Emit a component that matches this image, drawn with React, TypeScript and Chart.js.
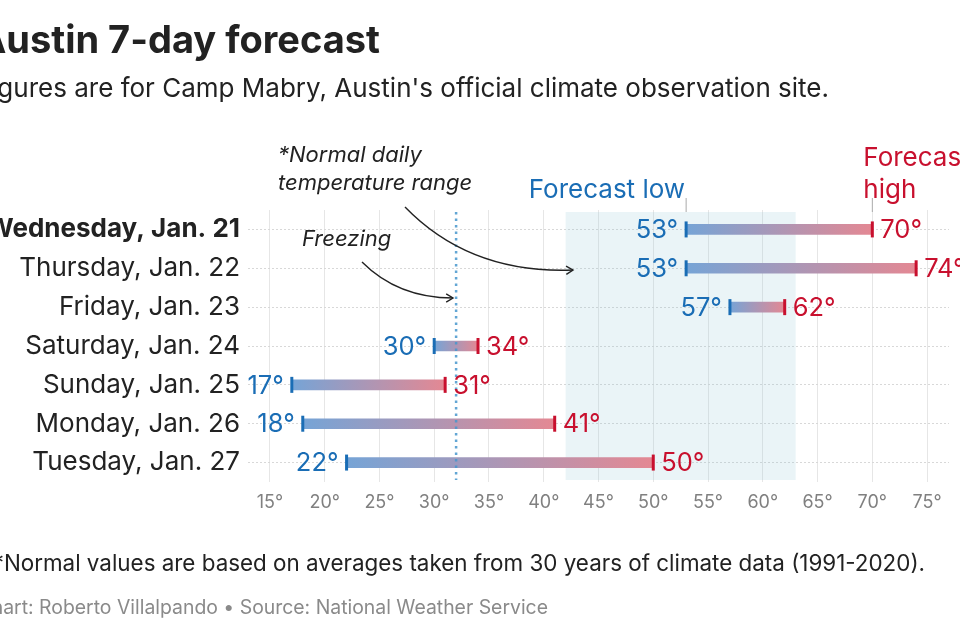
import { useEffect, useRef } from "react";
import { Chart, registerables } from "chart.js";

Chart.register(...registerables);

// Forecast data (°F)
const DAYS = [
  "Wednesday, Jan. 21",
  "Thursday, Jan. 22",
  "Friday, Jan. 23",
  "Saturday, Jan. 24",
  "Sunday, Jan. 25",
  "Monday, Jan. 26",
  "Tuesday, Jan. 27",
];
const LOWS = [53, 53, 57, 30, 17, 18, 22];
const HIGHS = [70, 74, 62, 34, 31, 41, 50];

// Axis ticks and reference values
const X_TICKS = [15, 20, 25, 30, 35, 40, 45, 50, 55, 60, 65, 70, 75];
const X_MIN = 13;
const X_MAX = 77.0;
const NORMAL_LOW = 42;
const NORMAL_HIGH = 63;
const FREEZING = 32;

const BLUE = "#1a6db5";
const RED = "#c8102e";
const INK = "#222222";
const FONT = "Inter, 'Noto Sans', sans-serif";

function arrow(
  ctx: CanvasRenderingContext2D,
  x0: number,
  y0: number,
  cx: number,
  cy: number,
  x1: number,
  y1: number
) {
  ctx.save();
  ctx.strokeStyle = "#222";
  ctx.lineWidth = 1.4;
  ctx.beginPath();
  ctx.moveTo(x0, y0);
  ctx.quadraticCurveTo(cx, cy, x1, y1);
  ctx.stroke();
  const a = Math.atan2(y1 - cy, x1 - cx);
  const h = 8;
  ctx.beginPath();
  ctx.moveTo(x1 - h * Math.cos(a - 0.55), y1 - h * Math.sin(a - 0.55));
  ctx.lineTo(x1, y1);
  ctx.lineTo(x1 - h * Math.cos(a + 0.55), y1 - h * Math.sin(a + 0.55));
  ctx.stroke();
  ctx.restore();
}

const overlay = {
  id: "forecastOverlay",
  beforeDatasetsDraw(chart: any) {
    const { ctx, chartArea, scales } = chart;
    const x = scales.x;
    const l = x.getPixelForValue(NORMAL_LOW);
    const r = x.getPixelForValue(NORMAL_HIGH);
    ctx.save();
    ctx.fillStyle = "rgba(150, 200, 215, 0.2)";
    ctx.fillRect(l, chartArea.top + 2, r - l, chartArea.bottom - chartArea.top - 4);
    ctx.restore();
  },
  afterDatasetsDraw(chart: any) {
    const { ctx, chartArea, scales } = chart;
    const x = scales.x;

    // freezing line
    const fx = x.getPixelForValue(FREEZING);
    ctx.save();
    ctx.strokeStyle = "rgba(70, 150, 205, 0.85)";
    ctx.lineWidth = 2.5;
    ctx.setLineDash([2.5, 4]);
    ctx.beginPath();
    ctx.moveTo(fx, chartArea.top + 2);
    ctx.lineTo(fx, chartArea.bottom - 2);
    ctx.stroke();
    ctx.restore();

    // value labels
    const lowMeta = chart.getDatasetMeta(1);
    const highMeta = chart.getDatasetMeta(2);
    ctx.save();
    ctx.font = `25.5px ${FONT}`;
    ctx.textBaseline = "middle";
    lowMeta.data.forEach((pt: any, i: number) => {
      ctx.fillStyle = BLUE;
      ctx.textAlign = "right";
      ctx.fillText(`${LOWS[i]}°`, pt.x - 8, pt.y + 1);
    });
    highMeta.data.forEach((pt: any, i: number) => {
      ctx.fillStyle = RED;
      ctx.textAlign = "left";
      ctx.fillText(`${HIGHS[i]}°`, pt.x + 8, pt.y + 1);
    });
    ctx.restore();
  },
  afterDraw(chart: any) {
    const { ctx, scales } = chart;
    const x = scales.x;
    ctx.save();
    ctx.textBaseline = "alphabetic";

    // headline and subtitle
    ctx.fillStyle = INK;
    ctx.textAlign = "right";
    ctx.font = `bold 38px ${FONT}`;
    ctx.fillText("Austin 7-day forecast", 380, 53);
    ctx.font = `26px ${FONT}`;
    ctx.fillText(
      "Figures are for Camp Mabry, Austin's official climate observation site.",
      829,
      97
    );

    // notes
    ctx.font = `22.4px ${FONT}`;
    ctx.fillText(
      "*Normal values are based on averages taken from 30 years of climate data (1991-2020).",
      925,
      571
    );
    ctx.fillStyle = "#8a8a8a";
    ctx.font = `19.4px ${FONT}`;
    ctx.fillText(
      "Chart: Roberto Villalpando • Source: National Weather Service",
      548,
      614
    );

    // annotations
    ctx.fillStyle = INK;
    ctx.textAlign = "left";
    ctx.font = `italic 22px ${FONT}`;
    ctx.fillText("*Normal daily", 278, 162);
    ctx.fillText("temperature range", 278, 190);
    ctx.fillText("Freezing", 302, 246);
    arrow(ctx, 405, 207, 470, 274, 573, 270);
    arrow(ctx, 362, 262, 398, 298, 453, 298);

    // series key
    const lowX = x.getPixelForValue(LOWS[0]);
    const highX = x.getPixelForValue(HIGHS[0]);
    ctx.strokeStyle = "#aaaaaa";
    ctx.lineWidth = 1;
    ctx.beginPath();
    ctx.moveTo(lowX, 198);
    ctx.lineTo(lowX, 212);
    ctx.moveTo(highX, 198);
    ctx.lineTo(highX, 212);
    ctx.stroke();

    ctx.font = `26px ${FONT}`;
    ctx.fillStyle = BLUE;
    ctx.textAlign = "right";
    ctx.fillText("Forecast low", lowX - 1, 198);
    ctx.fillStyle = RED;
    ctx.textAlign = "left";
    ctx.fillText("Forecast", highX - 9, 166);
    ctx.fillText("high", highX - 9, 198);
    ctx.restore();
  },
};

export default function App() {
  const canvasRef = useRef<HTMLCanvasElement | null>(null);

  useEffect(() => {
    const canvas = canvasRef.current;
    if (!canvas) return;

    const barColor = (c: any) => {
      const chart = c.chart;
      const i = c.dataIndex;
      if (!chart.chartArea || i === undefined) return "#a9a0b8";
      const xs = chart.scales.x;
      const x0 = xs.getPixelForValue(LOWS[i]);
      const x1 = xs.getPixelForValue(HIGHS[i]);
      const g = chart.ctx.createLinearGradient(x0, 0, x1, 0);
      g.addColorStop(0, "#76a4d6");
      g.addColorStop(1, "#e48893");
      return g;
    };

    const chart = new Chart(canvas, {
      type: "bar",
      data: {
        labels: DAYS,
        datasets: [
          {
            type: "bar",
            data: LOWS.map((lo, i) => [lo, HIGHS[i]]) as any,
            backgroundColor: barColor,
            borderWidth: 0,
            borderSkipped: false,
            barThickness: 10,
            order: 2,
          },
          {
            type: "line",
            data: LOWS,
            showLine: false,
            pointStyle: "line",
            rotation: 90,
            pointRadius: 8,
            pointBorderWidth: 3,
            pointBorderColor: BLUE,
            borderColor: BLUE,
            order: 1,
          } as any,
          {
            type: "line",
            data: HIGHS,
            showLine: false,
            pointStyle: "line",
            rotation: 90,
            pointRadius: 8,
            pointBorderWidth: 3,
            pointBorderColor: RED,
            borderColor: RED,
            order: 1,
          } as any,
        ],
      },
      options: {
        indexAxis: "y",
        responsive: false,
        animation: false,
        events: [],
        layout: { padding: { top: 210, bottom: 128, left: 0, right: 0 } },
        plugins: {
          legend: { display: false },
          tooltip: { enabled: false },
          title: { display: false },
        },
        scales: {
          x: {
            type: "linear",
            min: X_MIN,
            max: X_MAX,
            afterBuildTicks: (s: any) => {
              s.ticks = X_TICKS.map((v) => ({ value: v }));
            },
            afterFit: (s: any) => {
              s.height = 30;
            },
            grid: { color: "#e6e6e6", lineWidth: 1, drawTicks: false },
            border: { display: false },
            ticks: {
              padding: 10,
              color: "#808080",
              font: { family: FONT, size: 18 },
              callback: (v: any) => `${v}°`,
            },
          },
          y: {
            type: "category",
            afterFit: (s: any) => {
              s.width = 248;
            },
            grid: { color: "#d8d8d8", lineWidth: 1, offset: false, drawTicks: false },
            border: { display: false, dash: [2, 2] },
            ticks: {
              padding: 8,
              color: INK,
              font: (c: any) => ({
                family: FONT,
                size: 26,
                weight: c.index === 0 ? "bold" : "normal",
              }),
            },
          },
        },
      },
      plugins: [overlay],
    });

    return () => chart.destroy();
  }, []);

  return (
    <div style={{ position: "absolute", left: 0, top: 0, width: 960, height: 640, background: "#fff", overflow: "hidden" }}>
      <canvas ref={canvasRef} width={960} height={640} />
    </div>
  );
}
